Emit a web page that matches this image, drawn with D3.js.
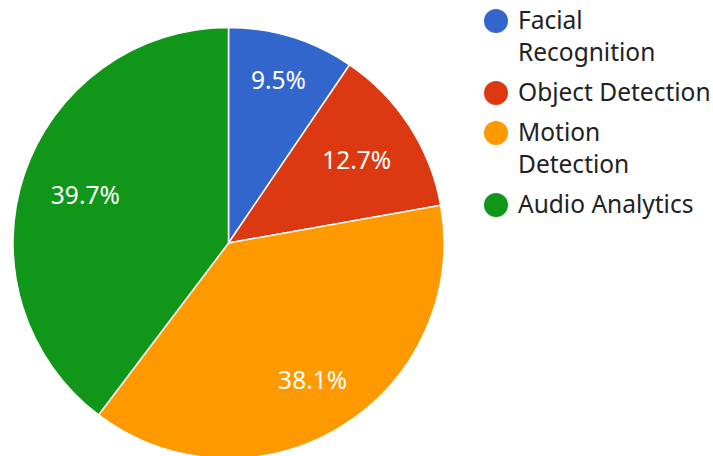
<!DOCTYPE html>
<html><head><meta charset="utf-8">
<script src="https://cdn.jsdelivr.net/npm/d3@7"></script>
<style>html,body{margin:0;padding:0;background:#fff;}svg{display:block;}</style>
</head><body>
<svg id="c" width="713" height="456"></svg>
<script>
const categories = ["Facial Recognition", "Object Detection", "Motion Detection", "Audio Analytics"];
const values = [9.5, 12.7, 38.1, 39.7];
const colors = ["#3366cc", "#dc3912", "#ff9900", "#109618"];
const legendLines = [["Facial", "Recognition"], ["Object Detection"], ["Motion", "Detection"], ["Audio Analytics"]];

const svg = d3.select("#c");
const font = "'Noto Sans', 'Open Sans', sans-serif";
const fs = 24.5;
const cx = 228.5, cy = 243, r = 215.5;
const data = categories.map((c, i) => ({c, v: values[i], col: colors[i]}));
const pie = d3.pie().value(d => d.v).sort(null);
const arc = d3.arc().innerRadius(0).outerRadius(r);
const total = d3.sum(values);
const g = svg.append("g").attr("transform", `translate(${cx},${cy})`);
const arcs = pie(data);
g.selectAll("path").data(arcs).join("path")
  .attr("d", arc).attr("fill", d => d.data.col)
  .attr("stroke", "#fff").attr("stroke-width", 1.5);
const labels = g.selectAll("text").data(arcs).join("text")
  .attr("text-anchor", "middle").attr("dy", "0.35em")
  .attr("fill", "#fff").attr("font-family", font).attr("font-size", fs)
  .text(d => (d.data.v / total * 100).toFixed(1) + "%");
const outer = r - 29;
labels.each(function(d) {
  const w = this.getComputedTextLength();
  const hw = w / 2, hh = fs * 0.36;
  const a = (d.startAngle + d.endAngle) / 2;
  const sx = Math.sin(a), sy = -Math.cos(a);
  const dist = outer - (hw * Math.abs(sx) + hh * Math.abs(sy));
  d3.select(this).attr("transform", `translate(${dist * sx},${dist * sy})`);
});

const lg = svg.append("g");
let y = 21;
data.forEach((d, i) => {
  lg.append("circle").attr("cx", 496).attr("cy", y).attr("r", 12).attr("fill", d.col);
  legendLines[i].forEach((line, j) => {
    lg.append("text").attr("x", 518).attr("y", y + j * 32).attr("dy", "0.34em")
      .attr("font-family", font).attr("font-size", fs).attr("fill", "#222")
      .text(line);
  });
  y += (legendLines[i].length - 1) * 32 + 40;
});
</script>
</body></html>
